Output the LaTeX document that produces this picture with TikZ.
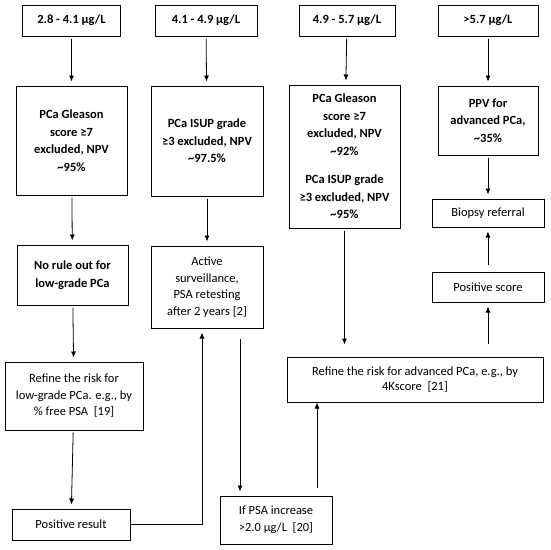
\documentclass[tikz,border=0pt]{standalone}
\usepackage{fontspec}
\setmainfont{Carlito}
\usetikzlibrary{positioning}
\usetikzlibrary{arrows.meta}

\begin{document}
\begin{tikzpicture}[x=1pt,y=-1pt,
		box/.style={draw,line width=1pt,align=center,inner sep=1pt,font=\fontsize{12.5}{16.5}\selectfont},
		bbox/.style={box,font=\fontsize{12.5}{17.5}\selectfont\bfseries},
		arr/.style={-{Latex[length=6pt,width=5pt]},line width=0.8pt,shorten <=2pt,shorten >=4pt}]
		\useasboundingbox (0,0) rectangle (550,550);
		% PSA ranges
		\node[bbox,minimum width=98,minimum height=31] (r1) at (71.5,20.5) {2.8 - 4.1 µg/L};
		\node[bbox,minimum width=102,minimum height=31] (r2) at (206,20.5) {4.1 - 4.9 µg/L};
		\node[bbox,minimum width=96,minimum height=31] (r3) at (347,20.5) {4.9 - 5.7 µg/L};
		\node[bbox,minimum width=100,minimum height=31] (r4) at (488,20.5) {>5.7 µg/L};
		% outcomes
		\node[bbox,minimum width=111,minimum height=109] (o1) at (71.5,140.5)
			{PCa Gleason\\score ≥7\\excluded, NPV\\\textasciitilde95\%};
		\node[bbox,minimum width=112,minimum height=110] (o2) at (207,141)
			{PCa ISUP grade\\≥3 excluded, NPV\\\textasciitilde97.5\%};
		\node[bbox,minimum width=111,minimum height=143] (o3) at (344.5,156.5)
			{PCa Gleason\\score ≥7\\excluded, NPV\\\textasciitilde92\%\\[11pt]PCa ISUP grade\\≥3 excluded, NPV\\\textasciitilde95\%};
		\node[bbox,minimum width=100,minimum height=69] (o4) at (488,120.5)
			{PPV for\\advanced PCa,\\\textasciitilde35\%};
		\node[bbox,minimum width=111,minimum height=60] (noRule) at (72.5,275)
			{No rule out for\\low-grade PCa};
		\node[box,minimum width=112,minimum height=82] (active) at (207,287)
			{Active\\surveillance,\\PSA retesting\\after 2 years [2]};
		\node[box,minimum width=112,minimum height=28] (biopsy) at (488,213) {Biopsy referral};
		\node[box,minimum width=112,minimum height=30] (posScore) at (488,287) {Positive score};
		\node[box,minimum width=138,minimum height=68] (refLow) at (74,396)
			{Refine the risk for\\low-grade PCa. e.g., by\\\% free PSA\ \ [19]};
		\node[box,minimum width=256,minimum height=45,font=\fontsize{12.5}{14.5}\selectfont] (refAdv) at (415,379.5)
			{Refine the risk for advanced PCa, e.g., by\\4Kscore\ \ [21]};
		\node[box,minimum width=118,minimum height=31] (posRes) at (71,524.5) {Positive result};
		\node[box,minimum width=112,minimum height=48] (psaInc) at (276,520)
			{If PSA increase\\>2.0 µg/L\ \ [20]};
		% connectors
		\foreach \i in {1,...,4}
		{
			\draw[arr] (r\i) -- (o\i);
		}
		\draw[arr] (o1) -- (noRule);
		\draw[arr] (noRule) -- (refLow);
		\draw[arr] (refLow) -- (posRes);
		\draw[arr] (o2) -- (active);
		\draw[arr,shorten <=0pt] (posRes.east) -| ([xshift=-5pt]active.south);
		\draw[arr,shorten <=10pt] ([xshift=33pt]active.south) -- ([xshift=33pt]active.south |- psaInc.north);
		\draw[arr,shorten >=12pt] (o3.south) -- (o3.south |- refAdv.north);
		\draw[arr,shorten >=0pt,shorten <=8pt] ([xshift=41pt]psaInc.north) -- ([xshift=41pt]psaInc.north |- refAdv.south);
		\draw[arr,shorten <=13pt] (posScore.south |- refAdv.north) -- (posScore.south);
		\draw[arr,shorten <=7pt] (posScore) -- (biopsy);
		\draw[arr] (o4) -- (biopsy);
\end{tikzpicture}
\end{document}
